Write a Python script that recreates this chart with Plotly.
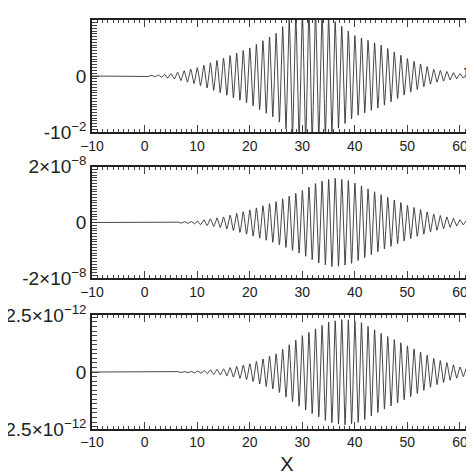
import numpy as np
import plotly.graph_objects as go
from plotly.subplots import make_subplots

# envelope samples (x position, amplitude)
env_x = [-10, 0, 5, 10, 15, 20, 25, 28, 31, 34, 37, 40, 45, 50, 55, 60, 65, 70]
env_t0 = [0, 0.00005, 0.0004, 0.0015, 0.0032, 0.005, 0.0076, 0.0105, 0.012, 0.0112, 0.0092, 0.0072, 0.0055, 0.0031, 0.0012, 0.0004, 0.0001, 0]

env2_x = [-10, 0, 5, 10, 15, 20, 25, 30, 33, 36, 39, 42, 45, 50, 55, 60, 65, 70]
env_t1 = [0, 0, 0.01e-8, 0.06e-8, 0.2e-8, 0.45e-8, 0.75e-8, 1.15e-8, 1.45e-8, 1.6e-8, 1.5e-8, 1.25e-8, 1.0e-8, 0.62e-8, 0.3e-8, 0.1e-8, 0.02e-8, 0]

env3_x = [-10, 0, 5, 10, 15, 20, 25, 30, 35, 38, 41, 45, 50, 55, 60, 65, 70]
env_t2 = [0, 0, 0.01e-12, 0.05e-12, 0.14e-12, 0.36e-12, 0.8e-12, 1.6e-12, 2.2e-12, 2.33e-12, 2.2e-12, 1.7e-12, 1.15e-12, 0.6e-12, 0.22e-12, 0.08e-12, 0]

wavelength = 1.25
x_tick_vals = [-10, 0, 10, 20, 30, 40, 50, 60]
panel_labels = ["t=0", "t=1", "t=2"]
y_limits = [1e-2, 2e-8, 2.5e-12]
y_ticktext = [
    ["-10<sup>−2</sup>", "0", "10<sup>−2</sup>"],
    ["-2×10<sup>−8</sup>", "0", "2×10<sup>−8</sup>"],
    ["-2.5×10<sup>−12</sup>", "0", "2.5×10<sup>−12</sup>"],
]

x = np.linspace(-10, 70, 6000)
carrier = np.cos(2 * np.pi * x / wavelength)
series = [
    np.interp(x, env_x, env_t0) * carrier,
    np.interp(x, env2_x, env_t1) * carrier,
    np.interp(x, env3_x, env_t2) * carrier,
]

fig = make_subplots(rows=3, cols=1)
domains = [[0.738, 0.975], [0.430, 0.665], [0.112, 0.352]]
font = dict(family="Liberation Sans, Arial", size=19, color="#222")

for i, y in enumerate(series):
    r = i + 1
    fig.add_trace(go.Scatter(x=x, y=y, mode="lines", line=dict(color="#333", width=0.9),
                             showlegend=False), row=r, col=1)
    lim = y_limits[i]
    fig.update_yaxes(row=r, col=1, domain=domains[i], range=[-lim, lim],
                     tickvals=[-lim, 0, lim], ticktext=y_ticktext[i], automargin=False,
                     ticks="inside", ticklen=7, mirror="ticks", showline=True,
                     linecolor="#222", linewidth=1.5, showgrid=False, zeroline=False,
                     minor=dict(ticks="inside", ticklen=5, nticks=10), tickfont=font)
    fig.update_xaxes(row=r, col=1, range=[-10, 64.2], tickvals=x_tick_vals, automargin=False,
                     ticks="inside", ticklen=7, mirror="ticks", showline=True,
                     linecolor="#222", linewidth=1.5, showgrid=False, zeroline=False,
                     minor=dict(ticks="inside", ticklen=3, dtick=1), tickfont=dict(font, size=14))
    fig.add_annotation(text=panel_labels[i], x=1.0, xref="paper", xanchor="left",
                       y=domains[i][1] - 0.08, yref="paper", showarrow=False,
                       xshift=-20 if i == 0 else -11, font=dict(font, size=22))

fig.update_xaxes(row=3, col=1, title=dict(text="X", font=dict(font, size=20), standoff=8))
fig.update_layout(width=474, height=474, margin=dict(l=84, r=0, t=0, b=0),
                  plot_bgcolor="white", paper_bgcolor="white")
fig.write_html("out.html")
